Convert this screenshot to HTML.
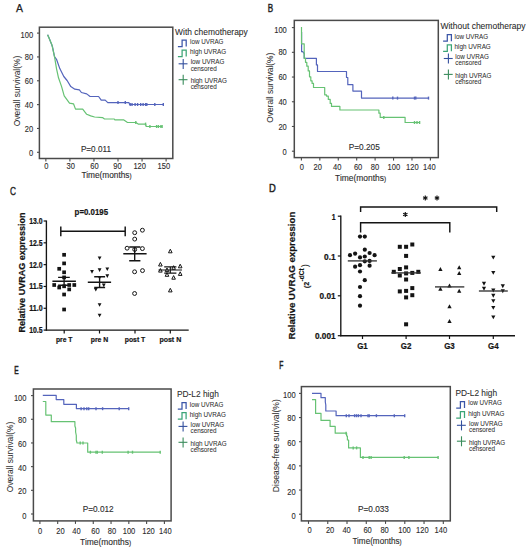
<!DOCTYPE html><html><head><meta charset="utf-8"><style>html,body{margin:0;padding:0;background:#fff;width:530px;height:550px;overflow:hidden}svg{display:block}text{font-family:"Liberation Sans", sans-serif}</style></head><body>
<svg width="530" height="550" viewBox="0 0 530 550">
<rect width="530" height="550" fill="#fff"/>
<text x="15.90" y="12.00" font-size="10.4" text-anchor="start" font-weight="normal" fill="#222" stroke="#222" stroke-width="0.25" textLength="7.0" lengthAdjust="spacingAndGlyphs" >A</text>
<rect x="39.40" y="27.20" width="133.40" height="131.30" fill="none" stroke="#4a4a4a" stroke-width="1.5"/>
<line x1="37.00" y1="152.30" x2="39.40" y2="152.30" stroke="#4a4a4a" stroke-width="1.1"/>
<text x="33.20" y="156.00" font-size="9.2" text-anchor="end" font-weight="normal" fill="#2c2c2c" stroke="#2c2c2c" stroke-width="0.12" textLength="4.2" lengthAdjust="spacingAndGlyphs" >0</text>
<line x1="37.00" y1="128.46" x2="39.40" y2="128.46" stroke="#4a4a4a" stroke-width="1.1"/>
<text x="33.20" y="131.80" font-size="9.2" text-anchor="end" font-weight="normal" fill="#2c2c2c" stroke="#2c2c2c" stroke-width="0.12" textLength="8.4" lengthAdjust="spacingAndGlyphs" >20</text>
<line x1="37.00" y1="104.62" x2="39.40" y2="104.62" stroke="#4a4a4a" stroke-width="1.1"/>
<text x="33.20" y="107.70" font-size="9.2" text-anchor="end" font-weight="normal" fill="#2c2c2c" stroke="#2c2c2c" stroke-width="0.12" textLength="8.4" lengthAdjust="spacingAndGlyphs" >40</text>
<line x1="37.00" y1="80.78" x2="39.40" y2="80.78" stroke="#4a4a4a" stroke-width="1.1"/>
<text x="33.20" y="83.95" font-size="9.2" text-anchor="end" font-weight="normal" fill="#2c2c2c" stroke="#2c2c2c" stroke-width="0.12" textLength="8.4" lengthAdjust="spacingAndGlyphs" >60</text>
<line x1="37.00" y1="56.94" x2="39.40" y2="56.94" stroke="#4a4a4a" stroke-width="1.1"/>
<text x="33.20" y="60.05" font-size="9.2" text-anchor="end" font-weight="normal" fill="#2c2c2c" stroke="#2c2c2c" stroke-width="0.12" textLength="8.4" lengthAdjust="spacingAndGlyphs" >80</text>
<line x1="37.00" y1="33.10" x2="39.40" y2="33.10" stroke="#4a4a4a" stroke-width="1.1"/>
<text x="33.20" y="37.70" font-size="9.2" text-anchor="end" font-weight="normal" fill="#2c2c2c" stroke="#2c2c2c" stroke-width="0.12" textLength="12.600000000000001" lengthAdjust="spacingAndGlyphs" >100</text>
<line x1="45.85" y1="158.50" x2="45.85" y2="161.50" stroke="#4a4a4a" stroke-width="1.1"/>
<text x="46.30" y="168.90" font-size="9.2" text-anchor="middle" font-weight="normal" fill="#2c2c2c" stroke="#2c2c2c" stroke-width="0.12" textLength="4.2" lengthAdjust="spacingAndGlyphs" >0</text>
<line x1="69.90" y1="158.50" x2="69.90" y2="161.50" stroke="#4a4a4a" stroke-width="1.1"/>
<text x="70.70" y="168.90" font-size="9.2" text-anchor="middle" font-weight="normal" fill="#2c2c2c" stroke="#2c2c2c" stroke-width="0.12" textLength="8.4" lengthAdjust="spacingAndGlyphs" >30</text>
<line x1="93.95" y1="158.50" x2="93.95" y2="161.50" stroke="#4a4a4a" stroke-width="1.1"/>
<text x="94.40" y="168.90" font-size="9.2" text-anchor="middle" font-weight="normal" fill="#2c2c2c" stroke="#2c2c2c" stroke-width="0.12" textLength="8.4" lengthAdjust="spacingAndGlyphs" >60</text>
<line x1="118.00" y1="158.50" x2="118.00" y2="161.50" stroke="#4a4a4a" stroke-width="1.1"/>
<text x="117.40" y="168.90" font-size="9.2" text-anchor="middle" font-weight="normal" fill="#2c2c2c" stroke="#2c2c2c" stroke-width="0.12" textLength="8.4" lengthAdjust="spacingAndGlyphs" >90</text>
<line x1="142.05" y1="158.50" x2="142.05" y2="161.50" stroke="#4a4a4a" stroke-width="1.1"/>
<text x="139.70" y="168.90" font-size="9.2" text-anchor="middle" font-weight="normal" fill="#2c2c2c" stroke="#2c2c2c" stroke-width="0.12" textLength="12.600000000000001" lengthAdjust="spacingAndGlyphs" >120</text>
<line x1="166.10" y1="158.50" x2="166.10" y2="161.50" stroke="#4a4a4a" stroke-width="1.1"/>
<text x="163.80" y="168.90" font-size="9.2" text-anchor="middle" font-weight="normal" fill="#2c2c2c" stroke="#2c2c2c" stroke-width="0.12" textLength="12.600000000000001" lengthAdjust="spacingAndGlyphs" >150</text>
<text x="0" y="0" transform="translate(20.00,91.00) rotate(-90)" font-size="8.4" text-anchor="middle" font-weight="normal" fill="#2c2c2c" stroke="#2c2c2c" stroke-width="0.04" textLength="70.5" lengthAdjust="spacingAndGlyphs">Overall  survival(%)</text>
<text x="80.90" y="152.10" font-size="8.5" text-anchor="start" font-weight="normal" fill="#2c2c2c" stroke="#2c2c2c" stroke-width="0.12" textLength="30.1" lengthAdjust="spacingAndGlyphs" >P=0.011</text>
<text x="81.50" y="178.20" font-size="8.6" fill="#2c2c2c" stroke="#2c2c2c" stroke-width="0.12" textLength="50.1" lengthAdjust="spacingAndGlyphs">Time(months<tspan font-size="6.5">)</tspan></text>
<polyline points="47.60,34.70 49.20,38.20 52.50,46.80 54.50,56.70 56.50,59.30 59.80,68.60 63.80,76.50 67.10,80.50 70.80,86.60 74.80,89.20 79.40,89.90 81.40,92.50 86.70,93.90 90.00,96.50 98.60,96.50 101.20,100.10 105.20,100.10 107.80,102.60 129.00,102.60 129.60,104.50 163.30,104.50" fill="none" stroke="#5464bc" stroke-width="1.2" stroke-linejoin="round"/>
<polyline points="47.60,34.70 51.90,44.80 54.50,56.70 56.50,68.60 58.50,77.80 61.60,86.60 64.20,95.90 69.50,103.10 73.50,103.80 75.50,109.10 82.70,109.10 86.70,114.30 90.70,115.90 94.60,117.00 102.50,117.60 104.50,119.00 114.30,119.00 114.90,119.80 123.50,119.80 127.20,122.30 135.80,122.50 138.20,124.10 145.60,124.10 146.20,126.50 162.10,126.50" fill="none" stroke="#66c273" stroke-width="1.2" stroke-linejoin="round"/>
<line x1="118.00" y1="101.10" x2="118.00" y2="104.10" stroke="#5464bc" stroke-width="1.4"/>
<line x1="125.30" y1="101.10" x2="125.30" y2="104.10" stroke="#5464bc" stroke-width="1.4"/>
<line x1="130.20" y1="103.00" x2="130.20" y2="106.00" stroke="#5464bc" stroke-width="1.4"/>
<line x1="132.00" y1="103.00" x2="132.00" y2="106.00" stroke="#5464bc" stroke-width="1.4"/>
<line x1="135.10" y1="103.00" x2="135.10" y2="106.00" stroke="#5464bc" stroke-width="1.4"/>
<line x1="137.60" y1="103.00" x2="137.60" y2="106.00" stroke="#5464bc" stroke-width="1.4"/>
<line x1="140.70" y1="103.00" x2="140.70" y2="106.00" stroke="#5464bc" stroke-width="1.4"/>
<line x1="143.10" y1="103.00" x2="143.10" y2="106.00" stroke="#5464bc" stroke-width="1.4"/>
<line x1="145.60" y1="103.00" x2="145.60" y2="106.00" stroke="#5464bc" stroke-width="1.4"/>
<line x1="146.80" y1="103.00" x2="146.80" y2="106.00" stroke="#5464bc" stroke-width="1.4"/>
<line x1="154.80" y1="103.00" x2="154.80" y2="106.00" stroke="#5464bc" stroke-width="1.4"/>
<line x1="163.30" y1="103.00" x2="163.30" y2="106.00" stroke="#5464bc" stroke-width="1.4"/>
<line x1="135.80" y1="121.00" x2="135.80" y2="124.00" stroke="#66c273" stroke-width="1.4"/>
<line x1="145.60" y1="122.60" x2="145.60" y2="125.60" stroke="#66c273" stroke-width="1.4"/>
<line x1="149.90" y1="125.00" x2="149.90" y2="128.00" stroke="#66c273" stroke-width="1.4"/>
<line x1="156.60" y1="125.00" x2="156.60" y2="128.00" stroke="#66c273" stroke-width="1.4"/>
<line x1="158.40" y1="125.00" x2="158.40" y2="128.00" stroke="#66c273" stroke-width="1.4"/>
<line x1="160.90" y1="125.00" x2="160.90" y2="128.00" stroke="#66c273" stroke-width="1.4"/>
<line x1="162.10" y1="125.00" x2="162.10" y2="128.00" stroke="#66c273" stroke-width="1.4"/>
<text x="175.10" y="34.50" font-size="8.9" text-anchor="start" font-weight="normal" fill="#2c2c2c" stroke="#2c2c2c" stroke-width="0.08" textLength="72.7" lengthAdjust="spacingAndGlyphs" >With chemotherapy</text>
<path d="M177.90,46.50 H182.10 V40.00 H186.20 V46.50" fill="none" stroke="#3b56a8" stroke-width="1.25"/>
<path d="M177.90,56.60 H182.10 V50.10 H186.20 V56.60" fill="none" stroke="#3ca577" stroke-width="1.25"/>
<text x="190.00" y="43.90" font-size="6.4" text-anchor="start" font-weight="normal" fill="#2c2c2c" stroke="#2c2c2c" stroke-width="0.04" textLength="33.5" lengthAdjust="spacingAndGlyphs" >low UVRAG</text>
<text x="190.00" y="54.00" font-size="6.4" text-anchor="start" font-weight="normal" fill="#2c2c2c" stroke="#2c2c2c" stroke-width="0.04" textLength="36.2" lengthAdjust="spacingAndGlyphs" >high UVRAG</text>
<line x1="178.60" y1="63.80" x2="187.50" y2="63.80" stroke="#34509e" stroke-width="1.1"/>
<line x1="183.20" y1="58.90" x2="183.20" y2="68.90" stroke="#34509e" stroke-width="1.1"/>
<line x1="178.60" y1="79.70" x2="187.50" y2="79.70" stroke="#3a8c5c" stroke-width="1.1"/>
<line x1="183.20" y1="74.80" x2="183.20" y2="84.80" stroke="#3a8c5c" stroke-width="1.1"/>
<text x="190.70" y="64.30" font-size="6.4" text-anchor="start" font-weight="normal" fill="#2c2c2c" stroke="#2c2c2c" stroke-width="0.04" textLength="33.6" lengthAdjust="spacingAndGlyphs" >low UVRAG</text>
<text x="190.70" y="70.50" font-size="6.4" text-anchor="start" font-weight="normal" fill="#2c2c2c" stroke="#2c2c2c" stroke-width="0.04" textLength="26" lengthAdjust="spacingAndGlyphs" >censored</text>
<text x="190.70" y="83.10" font-size="6.4" text-anchor="start" font-weight="normal" fill="#2c2c2c" stroke="#2c2c2c" stroke-width="0.04" textLength="36.2" lengthAdjust="spacingAndGlyphs" >high UVRAG</text>
<text x="190.70" y="89.30" font-size="6.4" text-anchor="start" font-weight="normal" fill="#2c2c2c" stroke="#2c2c2c" stroke-width="0.04" textLength="26" lengthAdjust="spacingAndGlyphs" >censored</text>
<text x="267.80" y="12.00" font-size="10.4" text-anchor="start" font-weight="normal" fill="#1e1e1e" stroke="#1e1e1e" stroke-width="0.45" textLength="5.4" lengthAdjust="spacingAndGlyphs" >B</text>
<rect x="294.30" y="20.40" width="144.00" height="137.20" fill="none" stroke="#4a4a4a" stroke-width="1.5"/>
<line x1="291.90" y1="151.20" x2="294.30" y2="151.20" stroke="#4a4a4a" stroke-width="1.1"/>
<text x="286.80" y="155.20" font-size="9.2" text-anchor="end" font-weight="normal" fill="#2c2c2c" stroke="#2c2c2c" stroke-width="0.12" textLength="4.2" lengthAdjust="spacingAndGlyphs" >0</text>
<line x1="291.90" y1="126.48" x2="294.30" y2="126.48" stroke="#4a4a4a" stroke-width="1.1"/>
<text x="286.80" y="129.60" font-size="9.2" text-anchor="end" font-weight="normal" fill="#2c2c2c" stroke="#2c2c2c" stroke-width="0.12" textLength="8.4" lengthAdjust="spacingAndGlyphs" >20</text>
<line x1="291.90" y1="101.76" x2="294.30" y2="101.76" stroke="#4a4a4a" stroke-width="1.1"/>
<text x="286.80" y="105.05" font-size="9.2" text-anchor="end" font-weight="normal" fill="#2c2c2c" stroke="#2c2c2c" stroke-width="0.12" textLength="8.4" lengthAdjust="spacingAndGlyphs" >40</text>
<line x1="291.90" y1="77.04" x2="294.30" y2="77.04" stroke="#4a4a4a" stroke-width="1.1"/>
<text x="286.80" y="80.20" font-size="9.2" text-anchor="end" font-weight="normal" fill="#2c2c2c" stroke="#2c2c2c" stroke-width="0.12" textLength="8.4" lengthAdjust="spacingAndGlyphs" >60</text>
<line x1="291.90" y1="52.32" x2="294.30" y2="52.32" stroke="#4a4a4a" stroke-width="1.1"/>
<text x="286.80" y="54.50" font-size="9.2" text-anchor="end" font-weight="normal" fill="#2c2c2c" stroke="#2c2c2c" stroke-width="0.12" textLength="8.4" lengthAdjust="spacingAndGlyphs" >80</text>
<line x1="291.90" y1="27.60" x2="294.30" y2="27.60" stroke="#4a4a4a" stroke-width="1.1"/>
<text x="286.80" y="32.50" font-size="9.2" text-anchor="end" font-weight="normal" fill="#2c2c2c" stroke="#2c2c2c" stroke-width="0.12" textLength="12.600000000000001" lengthAdjust="spacingAndGlyphs" >100</text>
<line x1="301.40" y1="157.60" x2="301.40" y2="160.60" stroke="#4a4a4a" stroke-width="1.1"/>
<text x="301.90" y="169.50" font-size="9.2" text-anchor="middle" font-weight="normal" fill="#2c2c2c" stroke="#2c2c2c" stroke-width="0.12" textLength="4.2" lengthAdjust="spacingAndGlyphs" >0</text>
<line x1="319.83" y1="157.60" x2="319.83" y2="160.60" stroke="#4a4a4a" stroke-width="1.1"/>
<text x="317.70" y="169.50" font-size="9.2" text-anchor="middle" font-weight="normal" fill="#2c2c2c" stroke="#2c2c2c" stroke-width="0.12" textLength="8.4" lengthAdjust="spacingAndGlyphs" >20</text>
<line x1="338.26" y1="157.60" x2="338.26" y2="160.60" stroke="#4a4a4a" stroke-width="1.1"/>
<text x="337.30" y="169.50" font-size="9.2" text-anchor="middle" font-weight="normal" fill="#2c2c2c" stroke="#2c2c2c" stroke-width="0.12" textLength="8.4" lengthAdjust="spacingAndGlyphs" >40</text>
<line x1="356.69" y1="157.60" x2="356.69" y2="160.60" stroke="#4a4a4a" stroke-width="1.1"/>
<text x="358.10" y="169.50" font-size="9.2" text-anchor="middle" font-weight="normal" fill="#2c2c2c" stroke="#2c2c2c" stroke-width="0.12" textLength="8.4" lengthAdjust="spacingAndGlyphs" >60</text>
<line x1="375.11" y1="157.60" x2="375.11" y2="160.60" stroke="#4a4a4a" stroke-width="1.1"/>
<text x="375.00" y="169.50" font-size="9.2" text-anchor="middle" font-weight="normal" fill="#2c2c2c" stroke="#2c2c2c" stroke-width="0.12" textLength="8.4" lengthAdjust="spacingAndGlyphs" >80</text>
<line x1="393.54" y1="157.60" x2="393.54" y2="160.60" stroke="#4a4a4a" stroke-width="1.1"/>
<text x="393.90" y="169.50" font-size="9.2" text-anchor="middle" font-weight="normal" fill="#2c2c2c" stroke="#2c2c2c" stroke-width="0.12" textLength="12.600000000000001" lengthAdjust="spacingAndGlyphs" >100</text>
<line x1="411.97" y1="157.60" x2="411.97" y2="160.60" stroke="#4a4a4a" stroke-width="1.1"/>
<text x="412.30" y="169.50" font-size="9.2" text-anchor="middle" font-weight="normal" fill="#2c2c2c" stroke="#2c2c2c" stroke-width="0.12" textLength="12.600000000000001" lengthAdjust="spacingAndGlyphs" >120</text>
<line x1="430.40" y1="157.60" x2="430.40" y2="160.60" stroke="#4a4a4a" stroke-width="1.1"/>
<text x="429.40" y="169.50" font-size="9.2" text-anchor="middle" font-weight="normal" fill="#2c2c2c" stroke="#2c2c2c" stroke-width="0.12" textLength="12.600000000000001" lengthAdjust="spacingAndGlyphs" >140</text>
<text x="0" y="0" transform="translate(273.20,87.70) rotate(-90)" font-size="8.4" text-anchor="middle" font-weight="normal" fill="#2c2c2c" stroke="#2c2c2c" stroke-width="0.04" textLength="70" lengthAdjust="spacingAndGlyphs">Overall  survival(%)</text>
<text x="348.70" y="149.90" font-size="8.5" text-anchor="start" font-weight="normal" fill="#2c2c2c" stroke="#2c2c2c" stroke-width="0.12" textLength="31.1" lengthAdjust="spacingAndGlyphs" >P=0.205</text>
<text x="335.10" y="180.50" font-size="8.6" fill="#2c2c2c" stroke="#2c2c2c" stroke-width="0.12" textLength="51" lengthAdjust="spacingAndGlyphs">Time(months<tspan font-size="6.5">)</tspan></text>
<polyline points="301.60,31.90 301.60,51.70 302.90,51.70 303.60,53.00 304.20,53.00 304.20,58.30 316.40,58.30 316.40,64.90 317.50,64.90 317.50,71.50 346.50,71.50 346.50,77.50 347.80,77.50 347.80,84.70 352.90,84.70 352.90,91.10 361.50,91.10 361.50,98.10 428.70,98.10" fill="none" stroke="#5464bc" stroke-width="1.2" stroke-linejoin="round"/>
<polyline points="301.50,27.10 301.50,43.80 304.20,43.80 304.20,58.30 305.50,58.30 305.50,62.30 306.80,62.30 306.80,66.20 308.20,66.20 308.20,70.90 309.50,70.90 309.50,76.80 310.80,76.80 310.80,80.80 312.10,80.80 312.10,83.40 313.50,83.40 313.50,87.50 324.70,87.50 324.70,94.80 326.50,94.80 326.50,96.10 328.30,96.10 328.30,99.40 330.20,99.40 330.20,103.40 331.50,103.40 331.50,106.40 339.90,106.40 339.90,110.00 378.90,110.00 378.90,113.20 380.20,113.20 380.20,117.40 405.10,117.40 405.10,122.50 420.00,122.50" fill="none" stroke="#66c273" stroke-width="1.2" stroke-linejoin="round"/>
<line x1="392.80" y1="96.60" x2="392.80" y2="99.60" stroke="#5464bc" stroke-width="1.4"/>
<line x1="397.50" y1="96.60" x2="397.50" y2="99.60" stroke="#5464bc" stroke-width="1.4"/>
<line x1="414.50" y1="96.60" x2="414.50" y2="99.60" stroke="#5464bc" stroke-width="1.4"/>
<line x1="415.80" y1="96.60" x2="415.80" y2="99.60" stroke="#5464bc" stroke-width="1.4"/>
<line x1="428.50" y1="96.60" x2="428.50" y2="99.60" stroke="#5464bc" stroke-width="1.4"/>
<line x1="414.50" y1="121.00" x2="414.50" y2="124.00" stroke="#66c273" stroke-width="1.4"/>
<line x1="417.00" y1="121.00" x2="417.00" y2="124.00" stroke="#66c273" stroke-width="1.4"/>
<line x1="419.60" y1="121.00" x2="419.60" y2="124.00" stroke="#66c273" stroke-width="1.4"/>
<line x1="383.80" y1="115.90" x2="383.80" y2="118.90" stroke="#66c273" stroke-width="1.4"/>
<text x="440.40" y="29.20" font-size="8.9" text-anchor="start" font-weight="normal" fill="#2c2c2c" stroke="#2c2c2c" stroke-width="0.08" textLength="85.2" lengthAdjust="spacingAndGlyphs" >Without chemotherapy</text>
<path d="M443.10,41.20 H447.30 V34.70 H451.40 V41.20" fill="none" stroke="#3b56a8" stroke-width="1.25"/>
<path d="M443.10,51.30 H447.30 V44.80 H451.40 V51.30" fill="none" stroke="#3ca577" stroke-width="1.25"/>
<text x="454.60" y="38.60" font-size="6.4" text-anchor="start" font-weight="normal" fill="#2c2c2c" stroke="#2c2c2c" stroke-width="0.04" textLength="33.5" lengthAdjust="spacingAndGlyphs" >low UVRAG</text>
<text x="454.60" y="48.70" font-size="6.4" text-anchor="start" font-weight="normal" fill="#2c2c2c" stroke="#2c2c2c" stroke-width="0.04" textLength="36.2" lengthAdjust="spacingAndGlyphs" >high UVRAG</text>
<line x1="443.80" y1="58.50" x2="452.70" y2="58.50" stroke="#34509e" stroke-width="1.1"/>
<line x1="448.40" y1="53.60" x2="448.40" y2="63.60" stroke="#34509e" stroke-width="1.1"/>
<line x1="443.80" y1="74.40" x2="452.70" y2="74.40" stroke="#3a8c5c" stroke-width="1.1"/>
<line x1="448.40" y1="69.50" x2="448.40" y2="79.50" stroke="#3a8c5c" stroke-width="1.1"/>
<text x="455.30" y="59.00" font-size="6.4" text-anchor="start" font-weight="normal" fill="#2c2c2c" stroke="#2c2c2c" stroke-width="0.04" textLength="33.6" lengthAdjust="spacingAndGlyphs" >low UVRAG</text>
<text x="455.30" y="65.20" font-size="6.4" text-anchor="start" font-weight="normal" fill="#2c2c2c" stroke="#2c2c2c" stroke-width="0.04" textLength="26" lengthAdjust="spacingAndGlyphs" >censored</text>
<text x="455.30" y="77.80" font-size="6.4" text-anchor="start" font-weight="normal" fill="#2c2c2c" stroke="#2c2c2c" stroke-width="0.04" textLength="36.2" lengthAdjust="spacingAndGlyphs" >high UVRAG</text>
<text x="455.30" y="84.00" font-size="6.4" text-anchor="start" font-weight="normal" fill="#2c2c2c" stroke="#2c2c2c" stroke-width="0.04" textLength="26" lengthAdjust="spacingAndGlyphs" >censored</text>
<text x="10.10" y="194.60" font-size="10.6" text-anchor="start" font-weight="normal" fill="#222" stroke="#222" stroke-width="0.35" textLength="6.0" lengthAdjust="spacingAndGlyphs" >C</text>
<line x1="46.40" y1="220.50" x2="46.40" y2="330.70" stroke="#141414" stroke-width="1.35"/>
<line x1="45.80" y1="330.10" x2="188.70" y2="330.10" stroke="#141414" stroke-width="1.35"/>
<line x1="43.60" y1="221.00" x2="46.40" y2="221.00" stroke="#141414" stroke-width="1.2"/>
<text x="42.60" y="223.90" font-size="8.2" text-anchor="end" font-weight="bold" fill="#141414" stroke="#141414" stroke-width="0.22" textLength="13.4" lengthAdjust="spacingAndGlyphs" >13.0</text>
<line x1="43.60" y1="242.82" x2="46.40" y2="242.82" stroke="#141414" stroke-width="1.2"/>
<text x="42.60" y="245.72" font-size="8.2" text-anchor="end" font-weight="bold" fill="#141414" stroke="#141414" stroke-width="0.22" textLength="13.4" lengthAdjust="spacingAndGlyphs" >12.5</text>
<line x1="43.60" y1="264.64" x2="46.40" y2="264.64" stroke="#141414" stroke-width="1.2"/>
<text x="42.60" y="267.54" font-size="8.2" text-anchor="end" font-weight="bold" fill="#141414" stroke="#141414" stroke-width="0.22" textLength="13.4" lengthAdjust="spacingAndGlyphs" >12.0</text>
<line x1="43.60" y1="286.46" x2="46.40" y2="286.46" stroke="#141414" stroke-width="1.2"/>
<text x="42.60" y="289.36" font-size="8.2" text-anchor="end" font-weight="bold" fill="#141414" stroke="#141414" stroke-width="0.22" textLength="13.4" lengthAdjust="spacingAndGlyphs" >11.5</text>
<line x1="43.60" y1="308.28" x2="46.40" y2="308.28" stroke="#141414" stroke-width="1.2"/>
<text x="42.60" y="311.18" font-size="8.2" text-anchor="end" font-weight="bold" fill="#141414" stroke="#141414" stroke-width="0.22" textLength="13.4" lengthAdjust="spacingAndGlyphs" >11.0</text>
<line x1="43.60" y1="330.10" x2="46.40" y2="330.10" stroke="#141414" stroke-width="1.2"/>
<text x="42.60" y="333.00" font-size="8.2" text-anchor="end" font-weight="bold" fill="#141414" stroke="#141414" stroke-width="0.22" textLength="13.4" lengthAdjust="spacingAndGlyphs" >10.5</text>
<line x1="64.20" y1="330.10" x2="64.20" y2="333.50" stroke="#141414" stroke-width="1.2"/>
<text x="64.20" y="342.40" font-size="7.9" text-anchor="middle" font-weight="bold" fill="#141414" stroke="#141414" stroke-width="0.22" textLength="16.5" lengthAdjust="spacingAndGlyphs" >pre T</text>
<line x1="99.50" y1="330.10" x2="99.50" y2="333.50" stroke="#141414" stroke-width="1.2"/>
<text x="99.50" y="342.40" font-size="7.9" text-anchor="middle" font-weight="bold" fill="#141414" stroke="#141414" stroke-width="0.22" textLength="17.5" lengthAdjust="spacingAndGlyphs" >pre N</text>
<line x1="135.00" y1="330.10" x2="135.00" y2="333.50" stroke="#141414" stroke-width="1.2"/>
<text x="135.00" y="342.40" font-size="7.9" text-anchor="middle" font-weight="bold" fill="#141414" stroke="#141414" stroke-width="0.22" textLength="20.5" lengthAdjust="spacingAndGlyphs" >post T</text>
<line x1="170.30" y1="330.10" x2="170.30" y2="333.50" stroke="#141414" stroke-width="1.2"/>
<text x="170.30" y="342.40" font-size="7.9" text-anchor="middle" font-weight="bold" fill="#141414" stroke="#141414" stroke-width="0.22" textLength="21.8" lengthAdjust="spacingAndGlyphs" >post N</text>
<text x="0" y="0" transform="translate(24.60,272.50) rotate(-90)" font-size="8.2" text-anchor="middle" font-weight="bold" fill="#141414" stroke="#141414" stroke-width="0.2" textLength="120" lengthAdjust="spacingAndGlyphs">Relative UVRAG expression</text>
<text x="74.60" y="214.60" font-size="9.0" text-anchor="start" font-weight="bold" fill="#141414" stroke="#141414" stroke-width="0.22" textLength="33.4" lengthAdjust="spacingAndGlyphs" >p=0.0195</text>
<path d="M60.8,226.4 V236.3 M60.8,231.3 H125.2 M125.2,226.4 V236.3" stroke="#141414" stroke-width="1.45" fill="none"/>
<rect x="62.25" y="252.95" width="3.7" height="3.7" fill="#141414"/>
<rect x="62.25" y="261.55" width="3.7" height="3.7" fill="#141414"/>
<rect x="57.35" y="266.95" width="3.7" height="3.7" fill="#141414"/>
<rect x="62.25" y="270.45" width="3.7" height="3.7" fill="#141414"/>
<rect x="62.25" y="275.55" width="3.7" height="3.7" fill="#141414"/>
<rect x="52.35" y="283.15" width="3.7" height="3.7" fill="#141414"/>
<rect x="57.35" y="285.65" width="3.7" height="3.7" fill="#141414"/>
<rect x="62.25" y="284.45" width="3.7" height="3.7" fill="#141414"/>
<rect x="67.35" y="283.15" width="3.7" height="3.7" fill="#141414"/>
<rect x="67.35" y="287.55" width="3.7" height="3.7" fill="#141414"/>
<rect x="72.45" y="283.15" width="3.7" height="3.7" fill="#141414"/>
<rect x="62.25" y="292.65" width="3.7" height="3.7" fill="#141414"/>
<rect x="62.25" y="307.65" width="3.7" height="3.7" fill="#141414"/>
<path d="M52.4,281.2 H75.9 M58.1,277.4 H69.8 M58.1,285.2 H69.8 M64.1,277.4 V285.2" stroke="#141414" stroke-width="1.35" fill="none"/>
<path d="M97.70,256.50 H101.50 L99.60,260.10 Z" fill="#141414"/>
<path d="M90.10,270.10 H93.90 L92.00,273.70 Z" fill="#141414"/>
<path d="M97.70,268.30 H101.50 L99.60,271.90 Z" fill="#141414"/>
<path d="M105.40,267.50 H109.20 L107.30,271.10 Z" fill="#141414"/>
<path d="M105.40,274.30 H109.20 L107.30,277.90 Z" fill="#141414"/>
<path d="M97.70,275.90 H101.50 L99.60,279.50 Z" fill="#141414"/>
<path d="M101.90,283.60 H105.70 L103.80,287.20 Z" fill="#141414"/>
<path d="M93.90,287.90 H97.70 L95.80,291.50 Z" fill="#141414"/>
<path d="M97.70,303.20 H101.50 L99.60,306.80 Z" fill="#141414"/>
<path d="M97.70,313.70 H101.50 L99.60,317.30 Z" fill="#141414"/>
<path d="M87.8,282.2 H111.1 M94.2,276.7 H105.1 M94.2,287.5 H105.1 M99.6,276.7 V287.5" stroke="#141414" stroke-width="1.35" fill="none"/>
<circle cx="142.4" cy="230.2" r="1.95" fill="#fff" stroke="#141414" stroke-width="1"/>
<circle cx="134.7" cy="232.7" r="1.95" fill="#fff" stroke="#141414" stroke-width="1"/>
<circle cx="134.7" cy="239.1" r="1.95" fill="#fff" stroke="#141414" stroke-width="1"/>
<circle cx="127.1" cy="248.2" r="1.95" fill="#fff" stroke="#141414" stroke-width="1"/>
<circle cx="134.7" cy="249.5" r="1.95" fill="#fff" stroke="#141414" stroke-width="1"/>
<circle cx="142.4" cy="248.6" r="1.95" fill="#fff" stroke="#141414" stroke-width="1"/>
<circle cx="134.6" cy="271.8" r="1.95" fill="#fff" stroke="#141414" stroke-width="1"/>
<circle cx="142.5" cy="270.6" r="1.95" fill="#fff" stroke="#141414" stroke-width="1"/>
<circle cx="134.6" cy="293.5" r="1.95" fill="#fff" stroke="#141414" stroke-width="1"/>
<path d="M123.3,253.7 H146.6 M129.2,247 H140.4 M129.2,260.7 H140.4 M134.7,247 V260.7" stroke="#141414" stroke-width="1.35" fill="none"/>
<path d="M168.50,252.80 H172.10 L170.30,249.20 Z" fill="#fff" stroke="#141414" stroke-width="1"/>
<path d="M158.60,266.00 H162.20 L160.40,262.40 Z" fill="#fff" stroke="#141414" stroke-width="1"/>
<path d="M158.60,272.10 H162.20 L160.40,268.50 Z" fill="#fff" stroke="#141414" stroke-width="1"/>
<path d="M165.20,271.60 H168.80 L167.00,268.00 Z" fill="#fff" stroke="#141414" stroke-width="1"/>
<path d="M171.80,269.30 H175.40 L173.60,265.70 Z" fill="#fff" stroke="#141414" stroke-width="1"/>
<path d="M178.40,267.80 H182.00 L180.20,264.20 Z" fill="#fff" stroke="#141414" stroke-width="1"/>
<path d="M178.40,275.40 H182.00 L180.20,271.80 Z" fill="#fff" stroke="#141414" stroke-width="1"/>
<path d="M165.20,276.30 H168.80 L167.00,272.70 Z" fill="#fff" stroke="#141414" stroke-width="1"/>
<path d="M171.80,279.20 H175.40 L173.60,275.60 Z" fill="#fff" stroke="#141414" stroke-width="1"/>
<path d="M168.50,291.90 H172.10 L170.30,288.30 Z" fill="#fff" stroke="#141414" stroke-width="1"/>
<path d="M158.5,270 H182 M164.2,266.8 H176.4 M164.2,273.1 H176.4 M170.3,266.8 V273.1" stroke="#141414" stroke-width="1.2" fill="none"/>
<text x="269.10" y="191.60" font-size="10.4" text-anchor="start" font-weight="normal" fill="#1e1e1e" stroke="#1e1e1e" stroke-width="0.45" textLength="6.8" lengthAdjust="spacingAndGlyphs" >D</text>
<line x1="340.80" y1="215.60" x2="340.80" y2="336.30" stroke="#141414" stroke-width="1.35"/>
<line x1="340.20" y1="335.70" x2="515.00" y2="335.70" stroke="#141414" stroke-width="1.35"/>
<line x1="337.80" y1="216.20" x2="340.80" y2="216.20" stroke="#141414" stroke-width="1.2"/>
<text x="335.60" y="219.70" font-size="8.4" text-anchor="end" font-weight="bold" fill="#141414" stroke="#141414" stroke-width="0.22" textLength="3.8" lengthAdjust="spacingAndGlyphs" >1</text>
<line x1="337.80" y1="256.00" x2="340.80" y2="256.00" stroke="#141414" stroke-width="1.2"/>
<text x="335.60" y="259.50" font-size="8.4" text-anchor="end" font-weight="bold" fill="#141414" stroke="#141414" stroke-width="0.22" textLength="11.6" lengthAdjust="spacingAndGlyphs" >0.1</text>
<line x1="337.80" y1="295.80" x2="340.80" y2="295.80" stroke="#141414" stroke-width="1.2"/>
<text x="335.60" y="299.30" font-size="8.4" text-anchor="end" font-weight="bold" fill="#141414" stroke="#141414" stroke-width="0.22" textLength="16" lengthAdjust="spacingAndGlyphs" >0.01</text>
<line x1="337.80" y1="335.70" x2="340.80" y2="335.70" stroke="#141414" stroke-width="1.2"/>
<text x="335.60" y="339.20" font-size="8.4" text-anchor="end" font-weight="bold" fill="#141414" stroke="#141414" stroke-width="0.22" textLength="20.6" lengthAdjust="spacingAndGlyphs" >0.001</text>
<line x1="362.50" y1="335.70" x2="362.50" y2="339.00" stroke="#141414" stroke-width="1.2"/>
<text x="362.50" y="348.80" font-size="8.8" text-anchor="middle" font-weight="bold" fill="#141414" stroke="#141414" stroke-width="0.22" textLength="10.6" lengthAdjust="spacingAndGlyphs" >G1</text>
<line x1="406.10" y1="335.70" x2="406.10" y2="339.00" stroke="#141414" stroke-width="1.2"/>
<text x="406.10" y="348.80" font-size="8.8" text-anchor="middle" font-weight="bold" fill="#141414" stroke="#141414" stroke-width="0.22" textLength="10.6" lengthAdjust="spacingAndGlyphs" >G2</text>
<line x1="449.50" y1="335.70" x2="449.50" y2="339.00" stroke="#141414" stroke-width="1.2"/>
<text x="449.50" y="348.80" font-size="8.8" text-anchor="middle" font-weight="bold" fill="#141414" stroke="#141414" stroke-width="0.22" textLength="10.6" lengthAdjust="spacingAndGlyphs" >G3</text>
<line x1="493.30" y1="335.70" x2="493.30" y2="339.00" stroke="#141414" stroke-width="1.2"/>
<text x="493.30" y="348.80" font-size="8.8" text-anchor="middle" font-weight="bold" fill="#141414" stroke="#141414" stroke-width="0.22" textLength="10.6" lengthAdjust="spacingAndGlyphs" >G4</text>
<text x="0" y="0" transform="translate(295.20,275.60) rotate(-90)" font-size="8.6" text-anchor="middle" font-weight="bold" fill="#141414" stroke="#141414" stroke-width="0.2" textLength="127.7" lengthAdjust="spacingAndGlyphs">Relative UVRAG expression</text>
<g transform="translate(308.6,288.0) rotate(-90)" fill="#141414" stroke="#141414" stroke-width="0.12" font-weight="bold"><text x="0" y="0" font-size="7.8" textLength="6.3" lengthAdjust="spacingAndGlyphs">(2</text><text x="6.6" y="-4.3" font-size="6.8" textLength="13.2" lengthAdjust="spacingAndGlyphs">-dCt</text><text x="20.8" y="-0.8" font-size="9.4" stroke-width="0.05" font-weight="normal">)</text></g>
<path d="M360.6,212 V207 H496.7 V212 M360.6,232.4 V222.8 H449.8 V232.4" stroke="#141414" stroke-width="1.45" fill="none"/>
<path d="M405.30,212.10 L405.30,217.10 M407.47,213.35 L403.13,215.85 M407.47,215.85 L403.13,213.35 " stroke="#141414" stroke-width="1.15"/>
<path d="M425.30,195.50 L425.30,200.50 M427.47,196.75 L423.13,199.25 M427.47,199.25 L423.13,196.75 " stroke="#141414" stroke-width="1.15"/>
<path d="M437.00,195.50 L437.00,200.50 M439.17,196.75 L434.83,199.25 M439.17,199.25 L434.83,196.75 " stroke="#141414" stroke-width="1.15"/>
<circle cx="360" cy="236.6" r="2.1" fill="#141414"/>
<circle cx="364.8" cy="236.6" r="2.1" fill="#141414"/>
<circle cx="364.8" cy="249.7" r="2.1" fill="#141414"/>
<circle cx="355.1" cy="253.6" r="2.1" fill="#141414"/>
<circle cx="369.6" cy="253" r="2.1" fill="#141414"/>
<circle cx="350" cy="255.2" r="2.1" fill="#141414"/>
<circle cx="374.6" cy="255.2" r="2.1" fill="#141414"/>
<circle cx="360" cy="257.4" r="2.1" fill="#141414"/>
<circle cx="364.8" cy="256.5" r="2.1" fill="#141414"/>
<circle cx="364.8" cy="261.3" r="2.1" fill="#141414"/>
<circle cx="369.6" cy="260.9" r="2.1" fill="#141414"/>
<circle cx="355.1" cy="266.7" r="2.1" fill="#141414"/>
<circle cx="360" cy="265.2" r="2.1" fill="#141414"/>
<circle cx="369.6" cy="265.7" r="2.1" fill="#141414"/>
<circle cx="360" cy="271.5" r="2.1" fill="#141414"/>
<circle cx="364.8" cy="280.2" r="2.1" fill="#141414"/>
<circle cx="360" cy="287" r="2.1" fill="#141414"/>
<circle cx="360" cy="296.2" r="2.1" fill="#141414"/>
<circle cx="360" cy="305.7" r="2.1" fill="#141414"/>
<line x1="347.80" y1="260.90" x2="376.90" y2="260.90" stroke="#333" stroke-width="1.35"/>
<rect x="397.80" y="244.80" width="4.0" height="4.0" fill="#141414"/>
<rect x="404.10" y="244.80" width="4.0" height="4.0" fill="#141414"/>
<rect x="410.30" y="242.50" width="4.0" height="4.0" fill="#141414"/>
<rect x="404.10" y="253.90" width="4.0" height="4.0" fill="#141414"/>
<rect x="397.80" y="267.00" width="4.0" height="4.0" fill="#141414"/>
<rect x="404.10" y="265.40" width="4.0" height="4.0" fill="#141414"/>
<rect x="391.80" y="269.80" width="4.0" height="4.0" fill="#141414"/>
<rect x="404.10" y="271.40" width="4.0" height="4.0" fill="#141414"/>
<rect x="410.30" y="270.90" width="4.0" height="4.0" fill="#141414"/>
<rect x="416.30" y="269.80" width="4.0" height="4.0" fill="#141414"/>
<rect x="397.80" y="273.50" width="4.0" height="4.0" fill="#141414"/>
<rect x="404.10" y="277.50" width="4.0" height="4.0" fill="#141414"/>
<rect x="397.80" y="289.40" width="4.0" height="4.0" fill="#141414"/>
<rect x="404.10" y="288.90" width="4.0" height="4.0" fill="#141414"/>
<rect x="410.30" y="286.10" width="4.0" height="4.0" fill="#141414"/>
<rect x="410.30" y="293.20" width="4.0" height="4.0" fill="#141414"/>
<rect x="404.10" y="295.40" width="4.0" height="4.0" fill="#141414"/>
<rect x="404.10" y="322.30" width="4.0" height="4.0" fill="#141414"/>
<line x1="391.30" y1="272.90" x2="420.80" y2="272.90" stroke="#333" stroke-width="1.35"/>
<path d="M438.25,271.10 H442.55 L440.40,267.10 Z" fill="#141414"/>
<path d="M457.05,269.20 H461.35 L459.20,265.20 Z" fill="#141414"/>
<path d="M457.05,274.90 H461.35 L459.20,270.90 Z" fill="#141414"/>
<path d="M447.35,287.60 H451.65 L449.50,283.60 Z" fill="#141414"/>
<path d="M438.25,290.80 H442.55 L440.40,286.80 Z" fill="#141414"/>
<path d="M457.05,292.70 H461.35 L459.20,288.70 Z" fill="#141414"/>
<path d="M447.35,308.20 H451.65 L449.50,304.20 Z" fill="#141414"/>
<path d="M447.35,323.00 H451.65 L449.50,319.00 Z" fill="#141414"/>
<line x1="435.00" y1="286.90" x2="464.30" y2="286.90" stroke="#333" stroke-width="1.35"/>
<path d="M491.20,255.65 H495.40 L493.30,259.55 Z" fill="#141414"/>
<path d="M491.20,270.95 H495.40 L493.30,274.85 Z" fill="#141414"/>
<path d="M481.90,281.75 H486.10 L484.00,285.65 Z" fill="#141414"/>
<path d="M481.90,286.85 H486.10 L484.00,290.75 Z" fill="#141414"/>
<path d="M500.70,284.35 H504.90 L502.80,288.25 Z" fill="#141414"/>
<path d="M500.70,289.35 H504.90 L502.80,293.25 Z" fill="#141414"/>
<path d="M491.20,288.55 H495.40 L493.30,292.45 Z" fill="#141414"/>
<path d="M491.20,293.85 H495.40 L493.30,297.75 Z" fill="#141414"/>
<path d="M491.20,299.15 H495.40 L493.30,303.05 Z" fill="#141414"/>
<path d="M491.20,305.95 H495.40 L493.30,309.85 Z" fill="#141414"/>
<path d="M491.20,315.45 H495.40 L493.30,319.35 Z" fill="#141414"/>
<line x1="478.90" y1="291.00" x2="507.80" y2="291.00" stroke="#333" stroke-width="1.35"/>
<text x="14.30" y="373.60" font-size="10.6" text-anchor="start" font-weight="normal" fill="#1e1e1e" stroke="#1e1e1e" stroke-width="0.55" textLength="4.4" lengthAdjust="spacingAndGlyphs" >E</text>
<rect x="33.40" y="389.00" width="137.70" height="131.90" fill="none" stroke="#4a4a4a" stroke-width="1.5"/>
<line x1="31.00" y1="514.00" x2="33.40" y2="514.00" stroke="#4a4a4a" stroke-width="1.1"/>
<text x="26.50" y="518.50" font-size="9.2" text-anchor="end" font-weight="normal" fill="#2c2c2c" stroke="#2c2c2c" stroke-width="0.12" textLength="4.2" lengthAdjust="spacingAndGlyphs" >0</text>
<line x1="31.00" y1="490.32" x2="33.40" y2="490.32" stroke="#4a4a4a" stroke-width="1.1"/>
<text x="26.50" y="494.30" font-size="9.2" text-anchor="end" font-weight="normal" fill="#2c2c2c" stroke="#2c2c2c" stroke-width="0.12" textLength="8.4" lengthAdjust="spacingAndGlyphs" >20</text>
<line x1="31.00" y1="466.64" x2="33.40" y2="466.64" stroke="#4a4a4a" stroke-width="1.1"/>
<text x="26.50" y="470.90" font-size="9.2" text-anchor="end" font-weight="normal" fill="#2c2c2c" stroke="#2c2c2c" stroke-width="0.12" textLength="8.4" lengthAdjust="spacingAndGlyphs" >40</text>
<line x1="31.00" y1="442.96" x2="33.40" y2="442.96" stroke="#4a4a4a" stroke-width="1.1"/>
<text x="26.50" y="447.00" font-size="9.2" text-anchor="end" font-weight="normal" fill="#2c2c2c" stroke="#2c2c2c" stroke-width="0.12" textLength="8.4" lengthAdjust="spacingAndGlyphs" >60</text>
<line x1="31.00" y1="419.28" x2="33.40" y2="419.28" stroke="#4a4a4a" stroke-width="1.1"/>
<text x="26.50" y="422.65" font-size="9.2" text-anchor="end" font-weight="normal" fill="#2c2c2c" stroke="#2c2c2c" stroke-width="0.12" textLength="8.4" lengthAdjust="spacingAndGlyphs" >80</text>
<line x1="31.00" y1="395.60" x2="33.40" y2="395.60" stroke="#4a4a4a" stroke-width="1.1"/>
<text x="26.50" y="401.00" font-size="9.2" text-anchor="end" font-weight="normal" fill="#2c2c2c" stroke="#2c2c2c" stroke-width="0.12" textLength="12.600000000000001" lengthAdjust="spacingAndGlyphs" >100</text>
<line x1="39.90" y1="520.90" x2="39.90" y2="523.90" stroke="#4a4a4a" stroke-width="1.1"/>
<text x="40.00" y="533.70" font-size="9.2" text-anchor="middle" font-weight="normal" fill="#2c2c2c" stroke="#2c2c2c" stroke-width="0.12" textLength="4.2" lengthAdjust="spacingAndGlyphs" >0</text>
<line x1="57.69" y1="520.90" x2="57.69" y2="523.90" stroke="#4a4a4a" stroke-width="1.1"/>
<text x="60.40" y="533.70" font-size="9.2" text-anchor="middle" font-weight="normal" fill="#2c2c2c" stroke="#2c2c2c" stroke-width="0.12" textLength="8.4" lengthAdjust="spacingAndGlyphs" >20</text>
<line x1="75.47" y1="520.90" x2="75.47" y2="523.90" stroke="#4a4a4a" stroke-width="1.1"/>
<text x="76.50" y="533.70" font-size="9.2" text-anchor="middle" font-weight="normal" fill="#2c2c2c" stroke="#2c2c2c" stroke-width="0.12" textLength="8.4" lengthAdjust="spacingAndGlyphs" >40</text>
<line x1="93.26" y1="520.90" x2="93.26" y2="523.90" stroke="#4a4a4a" stroke-width="1.1"/>
<text x="95.40" y="533.70" font-size="9.2" text-anchor="middle" font-weight="normal" fill="#2c2c2c" stroke="#2c2c2c" stroke-width="0.12" textLength="8.4" lengthAdjust="spacingAndGlyphs" >60</text>
<line x1="111.04" y1="520.90" x2="111.04" y2="523.90" stroke="#4a4a4a" stroke-width="1.1"/>
<text x="112.00" y="533.70" font-size="9.2" text-anchor="middle" font-weight="normal" fill="#2c2c2c" stroke="#2c2c2c" stroke-width="0.12" textLength="8.4" lengthAdjust="spacingAndGlyphs" >80</text>
<line x1="128.83" y1="520.90" x2="128.83" y2="523.90" stroke="#4a4a4a" stroke-width="1.1"/>
<text x="129.00" y="533.70" font-size="9.2" text-anchor="middle" font-weight="normal" fill="#2c2c2c" stroke="#2c2c2c" stroke-width="0.12" textLength="12.600000000000001" lengthAdjust="spacingAndGlyphs" >100</text>
<line x1="146.61" y1="520.90" x2="146.61" y2="523.90" stroke="#4a4a4a" stroke-width="1.1"/>
<text x="148.50" y="533.70" font-size="9.2" text-anchor="middle" font-weight="normal" fill="#2c2c2c" stroke="#2c2c2c" stroke-width="0.12" textLength="12.600000000000001" lengthAdjust="spacingAndGlyphs" >120</text>
<line x1="164.40" y1="520.90" x2="164.40" y2="523.90" stroke="#4a4a4a" stroke-width="1.1"/>
<text x="165.40" y="533.70" font-size="9.2" text-anchor="middle" font-weight="normal" fill="#2c2c2c" stroke="#2c2c2c" stroke-width="0.12" textLength="12.600000000000001" lengthAdjust="spacingAndGlyphs" >140</text>
<text x="0" y="0" transform="translate(12.80,457.00) rotate(-90)" font-size="8.4" text-anchor="middle" font-weight="normal" fill="#2c2c2c" stroke="#2c2c2c" stroke-width="0.04" textLength="70.4" lengthAdjust="spacingAndGlyphs">Overall  survival(%)</text>
<text x="82.70" y="512.10" font-size="8.5" text-anchor="start" font-weight="normal" fill="#2c2c2c" stroke="#2c2c2c" stroke-width="0.12" textLength="31" lengthAdjust="spacingAndGlyphs" >P=0.012</text>
<text x="80.10" y="544.70" font-size="8.6" fill="#2c2c2c" stroke="#2c2c2c" stroke-width="0.12" textLength="51" lengthAdjust="spacingAndGlyphs">Time(months<tspan font-size="6.5">)</tspan></text>
<polyline points="42.80,395.40 56.20,395.40 56.20,399.60 63.80,399.60 63.80,404.30 76.40,404.30 76.40,408.70 128.70,408.70" fill="none" stroke="#5464bc" stroke-width="1.2" stroke-linejoin="round"/>
<polyline points="42.80,401.50 45.80,401.50 45.80,415.10 51.30,415.10 51.30,421.70 74.90,421.70 74.90,426.00 75.60,428.00 75.60,432.00 76.30,435.50 76.30,440.00 77.00,443.00 87.70,443.00 87.70,452.20 160.20,452.20" fill="none" stroke="#66c273" stroke-width="1.2" stroke-linejoin="round"/>
<line x1="81.10" y1="407.20" x2="81.10" y2="410.20" stroke="#5464bc" stroke-width="1.4"/>
<line x1="84.00" y1="407.20" x2="84.00" y2="410.20" stroke="#5464bc" stroke-width="1.4"/>
<line x1="86.80" y1="407.20" x2="86.80" y2="410.20" stroke="#5464bc" stroke-width="1.4"/>
<line x1="88.70" y1="407.20" x2="88.70" y2="410.20" stroke="#5464bc" stroke-width="1.4"/>
<line x1="96.00" y1="407.20" x2="96.00" y2="410.20" stroke="#5464bc" stroke-width="1.4"/>
<line x1="102.60" y1="407.20" x2="102.60" y2="410.20" stroke="#5464bc" stroke-width="1.4"/>
<line x1="119.20" y1="407.20" x2="119.20" y2="410.20" stroke="#5464bc" stroke-width="1.4"/>
<line x1="128.70" y1="407.20" x2="128.70" y2="410.20" stroke="#5464bc" stroke-width="1.4"/>
<line x1="80.20" y1="441.50" x2="80.20" y2="444.50" stroke="#66c273" stroke-width="1.4"/>
<line x1="83.00" y1="441.50" x2="83.00" y2="444.50" stroke="#66c273" stroke-width="1.4"/>
<line x1="90.40" y1="450.70" x2="90.40" y2="453.70" stroke="#66c273" stroke-width="1.4"/>
<line x1="96.00" y1="450.70" x2="96.00" y2="453.70" stroke="#66c273" stroke-width="1.4"/>
<line x1="97.30" y1="450.70" x2="97.30" y2="453.70" stroke="#66c273" stroke-width="1.4"/>
<line x1="102.30" y1="450.70" x2="102.30" y2="453.70" stroke="#66c273" stroke-width="1.4"/>
<line x1="128.10" y1="450.70" x2="128.10" y2="453.70" stroke="#66c273" stroke-width="1.4"/>
<line x1="132.50" y1="450.70" x2="132.50" y2="453.70" stroke="#66c273" stroke-width="1.4"/>
<line x1="160.20" y1="450.70" x2="160.20" y2="453.70" stroke="#66c273" stroke-width="1.4"/>
<text x="176.90" y="397.10" font-size="8.9" text-anchor="start" font-weight="normal" fill="#2c2c2c" stroke="#2c2c2c" stroke-width="0.08" textLength="41.9" lengthAdjust="spacingAndGlyphs" >PD-L2 high</text>
<path d="M177.80,409.10 H182.00 V402.60 H186.10 V409.10" fill="none" stroke="#3b56a8" stroke-width="1.25"/>
<path d="M177.80,419.20 H182.00 V412.70 H186.10 V419.20" fill="none" stroke="#3ca577" stroke-width="1.25"/>
<text x="189.80" y="406.50" font-size="6.4" text-anchor="start" font-weight="normal" fill="#2c2c2c" stroke="#2c2c2c" stroke-width="0.04" textLength="33.5" lengthAdjust="spacingAndGlyphs" >low UVRAG</text>
<text x="189.80" y="416.60" font-size="6.4" text-anchor="start" font-weight="normal" fill="#2c2c2c" stroke="#2c2c2c" stroke-width="0.04" textLength="36.2" lengthAdjust="spacingAndGlyphs" >high UVRAG</text>
<line x1="178.50" y1="426.40" x2="187.40" y2="426.40" stroke="#34509e" stroke-width="1.1"/>
<line x1="183.10" y1="421.50" x2="183.10" y2="431.50" stroke="#34509e" stroke-width="1.1"/>
<line x1="178.50" y1="442.30" x2="187.40" y2="442.30" stroke="#3a8c5c" stroke-width="1.1"/>
<line x1="183.10" y1="437.40" x2="183.10" y2="447.40" stroke="#3a8c5c" stroke-width="1.1"/>
<text x="190.50" y="426.90" font-size="6.4" text-anchor="start" font-weight="normal" fill="#2c2c2c" stroke="#2c2c2c" stroke-width="0.04" textLength="33.6" lengthAdjust="spacingAndGlyphs" >low UVRAG</text>
<text x="190.50" y="433.10" font-size="6.4" text-anchor="start" font-weight="normal" fill="#2c2c2c" stroke="#2c2c2c" stroke-width="0.04" textLength="26" lengthAdjust="spacingAndGlyphs" >censored</text>
<text x="190.50" y="445.70" font-size="6.4" text-anchor="start" font-weight="normal" fill="#2c2c2c" stroke="#2c2c2c" stroke-width="0.04" textLength="36.2" lengthAdjust="spacingAndGlyphs" >high UVRAG</text>
<text x="190.50" y="451.90" font-size="6.4" text-anchor="start" font-weight="normal" fill="#2c2c2c" stroke="#2c2c2c" stroke-width="0.04" textLength="26" lengthAdjust="spacingAndGlyphs" >censored</text>
<text x="279.30" y="368.60" font-size="10.6" text-anchor="start" font-weight="normal" fill="#1e1e1e" stroke="#1e1e1e" stroke-width="0.55" textLength="4.1" lengthAdjust="spacingAndGlyphs" >F</text>
<rect x="301.40" y="386.60" width="148.90" height="134.30" fill="none" stroke="#4a4a4a" stroke-width="1.5"/>
<line x1="299.00" y1="514.20" x2="301.40" y2="514.20" stroke="#4a4a4a" stroke-width="1.1"/>
<text x="295.70" y="518.50" font-size="9.2" text-anchor="end" font-weight="normal" fill="#2c2c2c" stroke="#2c2c2c" stroke-width="0.12" textLength="4.2" lengthAdjust="spacingAndGlyphs" >0</text>
<line x1="299.00" y1="490.04" x2="301.40" y2="490.04" stroke="#4a4a4a" stroke-width="1.1"/>
<text x="295.70" y="495.10" font-size="9.2" text-anchor="end" font-weight="normal" fill="#2c2c2c" stroke="#2c2c2c" stroke-width="0.12" textLength="8.4" lengthAdjust="spacingAndGlyphs" >20</text>
<line x1="299.00" y1="465.88" x2="301.40" y2="465.88" stroke="#4a4a4a" stroke-width="1.1"/>
<text x="295.70" y="469.50" font-size="9.2" text-anchor="end" font-weight="normal" fill="#2c2c2c" stroke="#2c2c2c" stroke-width="0.12" textLength="8.4" lengthAdjust="spacingAndGlyphs" >40</text>
<line x1="299.00" y1="441.72" x2="301.40" y2="441.72" stroke="#4a4a4a" stroke-width="1.1"/>
<text x="295.70" y="446.00" font-size="9.2" text-anchor="end" font-weight="normal" fill="#2c2c2c" stroke="#2c2c2c" stroke-width="0.12" textLength="8.4" lengthAdjust="spacingAndGlyphs" >60</text>
<line x1="299.00" y1="417.56" x2="301.40" y2="417.56" stroke="#4a4a4a" stroke-width="1.1"/>
<text x="295.70" y="421.35" font-size="9.2" text-anchor="end" font-weight="normal" fill="#2c2c2c" stroke="#2c2c2c" stroke-width="0.12" textLength="8.4" lengthAdjust="spacingAndGlyphs" >80</text>
<line x1="299.00" y1="393.40" x2="301.40" y2="393.40" stroke="#4a4a4a" stroke-width="1.1"/>
<text x="295.70" y="398.35" font-size="9.2" text-anchor="end" font-weight="normal" fill="#2c2c2c" stroke="#2c2c2c" stroke-width="0.12" textLength="12.600000000000001" lengthAdjust="spacingAndGlyphs" >100</text>
<line x1="308.50" y1="520.90" x2="308.50" y2="523.90" stroke="#4a4a4a" stroke-width="1.1"/>
<text x="309.60" y="533.40" font-size="9.2" text-anchor="middle" font-weight="normal" fill="#2c2c2c" stroke="#2c2c2c" stroke-width="0.12" textLength="4.2" lengthAdjust="spacingAndGlyphs" >0</text>
<line x1="327.76" y1="520.90" x2="327.76" y2="523.90" stroke="#4a4a4a" stroke-width="1.1"/>
<text x="330.10" y="533.40" font-size="9.2" text-anchor="middle" font-weight="normal" fill="#2c2c2c" stroke="#2c2c2c" stroke-width="0.12" textLength="8.4" lengthAdjust="spacingAndGlyphs" >20</text>
<line x1="347.01" y1="520.90" x2="347.01" y2="523.90" stroke="#4a4a4a" stroke-width="1.1"/>
<text x="346.60" y="533.40" font-size="9.2" text-anchor="middle" font-weight="normal" fill="#2c2c2c" stroke="#2c2c2c" stroke-width="0.12" textLength="8.4" lengthAdjust="spacingAndGlyphs" >40</text>
<line x1="366.27" y1="520.90" x2="366.27" y2="523.90" stroke="#4a4a4a" stroke-width="1.1"/>
<text x="367.60" y="533.40" font-size="9.2" text-anchor="middle" font-weight="normal" fill="#2c2c2c" stroke="#2c2c2c" stroke-width="0.12" textLength="8.4" lengthAdjust="spacingAndGlyphs" >60</text>
<line x1="385.53" y1="520.90" x2="385.53" y2="523.90" stroke="#4a4a4a" stroke-width="1.1"/>
<text x="384.60" y="533.40" font-size="9.2" text-anchor="middle" font-weight="normal" fill="#2c2c2c" stroke="#2c2c2c" stroke-width="0.12" textLength="8.4" lengthAdjust="spacingAndGlyphs" >80</text>
<line x1="404.79" y1="520.90" x2="404.79" y2="523.90" stroke="#4a4a4a" stroke-width="1.1"/>
<text x="404.50" y="533.40" font-size="9.2" text-anchor="middle" font-weight="normal" fill="#2c2c2c" stroke="#2c2c2c" stroke-width="0.12" textLength="12.600000000000001" lengthAdjust="spacingAndGlyphs" >100</text>
<line x1="424.04" y1="520.90" x2="424.04" y2="523.90" stroke="#4a4a4a" stroke-width="1.1"/>
<text x="422.40" y="533.40" font-size="9.2" text-anchor="middle" font-weight="normal" fill="#2c2c2c" stroke="#2c2c2c" stroke-width="0.12" textLength="12.600000000000001" lengthAdjust="spacingAndGlyphs" >120</text>
<line x1="443.30" y1="520.90" x2="443.30" y2="523.90" stroke="#4a4a4a" stroke-width="1.1"/>
<text x="440.80" y="533.40" font-size="9.2" text-anchor="middle" font-weight="normal" fill="#2c2c2c" stroke="#2c2c2c" stroke-width="0.12" textLength="12.600000000000001" lengthAdjust="spacingAndGlyphs" >140</text>
<text x="0" y="0" transform="translate(279.20,445.70) rotate(-90)" font-size="8.4" text-anchor="middle" font-weight="normal" fill="#2c2c2c" stroke="#2c2c2c" stroke-width="0.04" textLength="92.9" lengthAdjust="spacingAndGlyphs">Disease-free  survival(%)</text>
<text x="358.00" y="511.90" font-size="8.5" text-anchor="start" font-weight="normal" fill="#2c2c2c" stroke="#2c2c2c" stroke-width="0.12" textLength="30.9" lengthAdjust="spacingAndGlyphs" >P=0.033</text>
<text x="352.40" y="544.40" font-size="8.6" fill="#2c2c2c" stroke="#2c2c2c" stroke-width="0.12" textLength="49.2" lengthAdjust="spacingAndGlyphs">Time(months<tspan font-size="6.5">)</tspan></text>
<polyline points="312.00,393.40 321.00,393.40 321.00,397.70 325.30,397.70 325.30,402.00 325.80,405.00 325.80,411.00 336.10,411.00 336.10,415.70 404.70,415.70" fill="none" stroke="#5464bc" stroke-width="1.2" stroke-linejoin="round"/>
<polyline points="312.00,399.60 315.60,399.60 315.60,413.40 321.00,413.40 321.00,420.40 330.10,420.40 330.10,426.40 335.20,426.40 335.20,433.20 346.60,433.20 346.60,436.00 347.40,436.00 347.40,440.00 348.60,440.00 348.60,447.90 360.40,447.90 360.40,457.40 438.10,457.40" fill="none" stroke="#66c273" stroke-width="1.2" stroke-linejoin="round"/>
<line x1="346.30" y1="414.20" x2="346.30" y2="417.20" stroke="#5464bc" stroke-width="1.4"/>
<line x1="349.00" y1="414.20" x2="349.00" y2="417.20" stroke="#5464bc" stroke-width="1.4"/>
<line x1="354.60" y1="414.20" x2="354.60" y2="417.20" stroke="#5464bc" stroke-width="1.4"/>
<line x1="356.50" y1="414.20" x2="356.50" y2="417.20" stroke="#5464bc" stroke-width="1.4"/>
<line x1="358.40" y1="414.20" x2="358.40" y2="417.20" stroke="#5464bc" stroke-width="1.4"/>
<line x1="361.00" y1="414.20" x2="361.00" y2="417.20" stroke="#5464bc" stroke-width="1.4"/>
<line x1="368.00" y1="414.20" x2="368.00" y2="417.20" stroke="#5464bc" stroke-width="1.4"/>
<line x1="369.20" y1="414.20" x2="369.20" y2="417.20" stroke="#5464bc" stroke-width="1.4"/>
<line x1="376.40" y1="414.20" x2="376.40" y2="417.20" stroke="#5464bc" stroke-width="1.4"/>
<line x1="394.30" y1="414.20" x2="394.30" y2="417.20" stroke="#5464bc" stroke-width="1.4"/>
<line x1="404.70" y1="414.20" x2="404.70" y2="417.20" stroke="#5464bc" stroke-width="1.4"/>
<line x1="346.10" y1="431.70" x2="346.10" y2="434.70" stroke="#66c273" stroke-width="1.4"/>
<line x1="353.20" y1="446.40" x2="353.20" y2="449.40" stroke="#66c273" stroke-width="1.4"/>
<line x1="356.60" y1="446.40" x2="356.60" y2="449.40" stroke="#66c273" stroke-width="1.4"/>
<line x1="363.00" y1="455.90" x2="363.00" y2="458.90" stroke="#66c273" stroke-width="1.4"/>
<line x1="369.20" y1="455.90" x2="369.20" y2="458.90" stroke="#66c273" stroke-width="1.4"/>
<line x1="371.10" y1="455.90" x2="371.10" y2="458.90" stroke="#66c273" stroke-width="1.4"/>
<line x1="404.20" y1="455.90" x2="404.20" y2="458.90" stroke="#66c273" stroke-width="1.4"/>
<line x1="408.90" y1="455.90" x2="408.90" y2="458.90" stroke="#66c273" stroke-width="1.4"/>
<line x1="438.10" y1="455.90" x2="438.10" y2="458.90" stroke="#66c273" stroke-width="1.4"/>
<text x="455.40" y="396.00" font-size="8.9" text-anchor="start" font-weight="normal" fill="#2c2c2c" stroke="#2c2c2c" stroke-width="0.08" textLength="41.7" lengthAdjust="spacingAndGlyphs" >PD-L2 high</text>
<path d="M456.20,408.00 H460.40 V401.50 H464.50 V408.00" fill="none" stroke="#3b56a8" stroke-width="1.25"/>
<path d="M456.20,418.10 H460.40 V411.60 H464.50 V418.10" fill="none" stroke="#3ca577" stroke-width="1.25"/>
<text x="468.30" y="405.40" font-size="6.4" text-anchor="start" font-weight="normal" fill="#2c2c2c" stroke="#2c2c2c" stroke-width="0.04" textLength="33.5" lengthAdjust="spacingAndGlyphs" >low UVRAG</text>
<text x="468.30" y="415.50" font-size="6.4" text-anchor="start" font-weight="normal" fill="#2c2c2c" stroke="#2c2c2c" stroke-width="0.04" textLength="36.2" lengthAdjust="spacingAndGlyphs" >high UVRAG</text>
<line x1="456.90" y1="425.30" x2="465.80" y2="425.30" stroke="#34509e" stroke-width="1.1"/>
<line x1="461.50" y1="420.40" x2="461.50" y2="430.40" stroke="#34509e" stroke-width="1.1"/>
<line x1="456.90" y1="441.20" x2="465.80" y2="441.20" stroke="#3a8c5c" stroke-width="1.1"/>
<line x1="461.50" y1="436.30" x2="461.50" y2="446.30" stroke="#3a8c5c" stroke-width="1.1"/>
<text x="469.00" y="425.80" font-size="6.4" text-anchor="start" font-weight="normal" fill="#2c2c2c" stroke="#2c2c2c" stroke-width="0.04" textLength="33.6" lengthAdjust="spacingAndGlyphs" >low UVRAG</text>
<text x="469.00" y="432.00" font-size="6.4" text-anchor="start" font-weight="normal" fill="#2c2c2c" stroke="#2c2c2c" stroke-width="0.04" textLength="26" lengthAdjust="spacingAndGlyphs" >censored</text>
<text x="469.00" y="444.60" font-size="6.4" text-anchor="start" font-weight="normal" fill="#2c2c2c" stroke="#2c2c2c" stroke-width="0.04" textLength="36.2" lengthAdjust="spacingAndGlyphs" >high UVRAG</text>
<text x="469.00" y="450.80" font-size="6.4" text-anchor="start" font-weight="normal" fill="#2c2c2c" stroke="#2c2c2c" stroke-width="0.04" textLength="26" lengthAdjust="spacingAndGlyphs" >censored</text>
</svg></body></html>
